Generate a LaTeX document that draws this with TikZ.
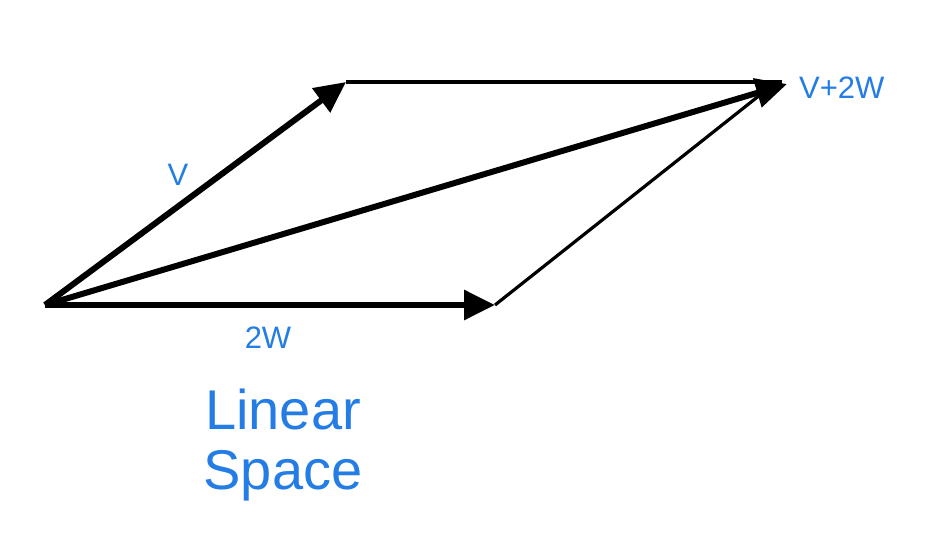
\documentclass[tikz,border=0pt]{standalone}
\usepackage{fontspec}
\setmainfont{Liberation Sans}
\usetikzlibrary{arrows.meta}
\definecolor{lblue}{RGB}{35,125,228}
\begin{document}
\begin{tikzpicture}[x=1pt,y=-1pt,
  vec/.style={line width=6pt,-{Triangle[length=31pt,width=29pt]}},
  thin/.style={line width=3.2pt},
  lbl/.style={text=lblue,font=\fontsize{31}{36}\selectfont,inner sep=0pt},
  big/.style={text=lblue,font=\fontsize{56}{64}\selectfont,inner sep=0pt}]
\useasboundingbox (0,0) rectangle (934,538);
\coordinate (O) at (45,305);
\coordinate (V) at (346,82);
\coordinate (W) at (495,305);
\coordinate (S) at (787,84);
\coordinate (T) at (782,82);
\coordinate (U) at (765,91);
\draw[thin] (V) -- (T);
\draw[thin] (W) -- (U);
\draw[vec] (O) -- (V);
\draw[vec] (O) -- (W);
\draw[vec] (O) -- (S);
\node[lbl] (lv) at (178,175) {V};
\node[lbl] (lw) at (268,338) {2W};
\node[lbl,anchor=west] (ls) at (799,88) {V+2W};
\node[big] (l1) at (283,409) {Linear};
\node[big] (l2) at (283,476) {Space};
\end{tikzpicture}
\end{document}
